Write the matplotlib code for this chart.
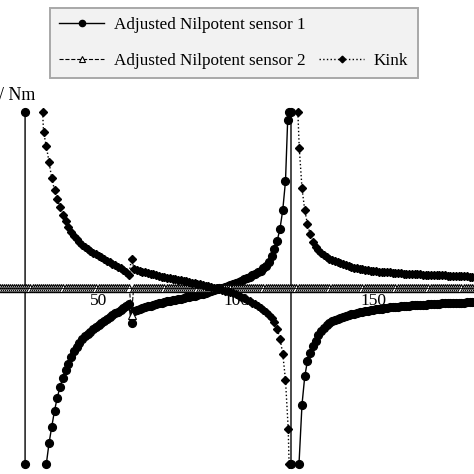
import numpy as np
import matplotlib
matplotlib.use("Agg")
import matplotlib.pyplot as plt
from matplotlib.lines import Line2D

plt.rcParams['font.family'] = ['Liberation Serif', 'DejaVu Serif']

nan = np.nan

# Adjusted Nilpotent sensor 1 (clipped at +-10)
s1_pole_x = [23.3, 23.3]
s1_pole_y = [10, -10]
s1_left_x0 = 31
s1_left_y = [-10, -8.8, -7.85, -6.95, -6.2, -5.6, -5.08, -4.63, -4.28, -3.9,
             -3.55, -3.3, -3.07, -2.87, -2.7, -2.57, -2.45, -2.33, -2.2, -2.08,
             -1.96, -1.85, -1.73, -1.6, -1.5, -1.41, -1.32, -1.22, -1.12, -1.02,
             -0.88, -1.98, -1.3,
             -1.24, -1.18, -1.12, -1.07, -1.02, -0.97, -0.93, -0.89, -0.85, -0.81,
             -0.77, -0.73, -0.70, -0.66, -0.63, -0.60, -0.57, -0.54, -0.51, -0.48,
             -0.45, -0.42, -0.38, -0.34, -0.30, -0.26, -0.21, -0.16, -0.11, -0.05,
             0.0, 0.05, 0.10, 0.15, 0.21, 0.27, 0.33, 0.39, 0.45, 0.52,
             0.59, 0.66, 0.74, 0.83, 0.92, 1.02, 1.15, 1.3, 1.5, 1.82,
             2.25, 2.72, 3.4, 4.45, 6.1]
s1_top_x = [118.8, 119.3, 120.0, 120.0]
s1_top_y = [9.6, 10, 10, -10]
s1_right_x0 = 124
s1_right_y = [-6.6, -5.0, -4.1, -3.68, -3.28, -2.96, -2.66, -2.43, -2.24, -2.08,
              -1.96, -1.87, -1.8, -1.73, -1.66, -1.6, -1.55, -1.51, -1.47, -1.43,
              -1.39, -1.36, -1.33, -1.30, -1.27, -1.24, -1.21, -1.18, -1.16, -1.14,
              -1.12, -1.10, -1.08, -1.06, -1.05, -1.03, -1.02, -1.0, -0.99, -0.98,
              -0.96, -0.95, -0.94, -0.93, -0.92, -0.91, -0.90, -0.89, -0.88, -0.87,
              -0.86, -0.85, -0.85, -0.84, -0.83, -0.82, -0.82, -0.81, -0.80, -0.80,
              -0.79, -0.79, -0.78, -0.78, -0.77]

# Kink
k_left_x0 = 30
k_left_y = [8.9, 8.1, 7.2, 6.25, 5.6, 5.08, 4.62, 4.18, 3.82, 3.5,
            3.22, 2.98, 2.8, 2.66, 2.48, 2.36, 2.25, 2.14, 2.04, 1.95,
            1.86, 1.77, 1.68, 1.58, 1.48, 1.40, 1.32, 1.24, 1.14, 1.05,
            0.95, 0.78, 1.65, 1.12,
            1.06, 1.01, 0.96, 0.92, 0.88, 0.84, 0.80, 0.75, 0.71, 0.68,
            0.65, 0.62, 0.58, 0.55, 0.52, 0.49, 0.46, 0.43, 0.40, 0.37,
            0.33, 0.30, 0.27, 0.24, 0.20, 0.16, 0.12, 0.08, 0.04, 0.0,
            -0.04, -0.08, -0.12, -0.17, -0.22, -0.27, -0.33, -0.40, -0.47, -0.55,
            -0.63, -0.72, -0.81, -0.90, -1.0, -1.11, -1.23, -1.36, -1.5, -1.68,
            -1.88, -2.32, -2.85, -3.7, -5.2, -8.0]
k_right_x0 = 123
k_right_y = [8.0, 5.7, 4.45, 3.65, 3.08, 2.65, 2.38, 2.17, 2.0, 1.88,
             1.78, 1.70, 1.62, 1.55, 1.49, 1.43, 1.37, 1.32, 1.27, 1.23,
             1.19, 1.15, 1.12, 1.09, 1.06, 1.03, 1.01, 0.99, 0.97, 0.96,
             0.95, 0.94, 0.92, 0.91, 0.89, 0.88, 0.87, 0.86, 0.85, 0.84,
             0.83, 0.82, 0.81, 0.80, 0.80, 0.79, 0.78, 0.78, 0.77, 0.77,
             0.76, 0.75, 0.74, 0.74, 0.73, 0.72, 0.72, 0.71, 0.70, 0.70,
             0.69, 0.69, 0.68, 0.68, 0.67, 0.67]

# Adjusted Nilpotent sensor 2: flat at zero, one dip near x = 62
s2_x = 10.25 + 0.75 * np.arange(239)
s2_dip_x = 62.0
s2_dip_y = -1.5

xticks = [50, 100, 150]
labels = ["Adjusted Nilpotent sensor 1", "Adjusted Nilpotent sensor 2", "Kink"]


def grid(x0, ys):
    return list(x0 + np.arange(len(ys)))


s1_x = s1_pole_x + [nan] + grid(s1_left_x0, s1_left_y) + s1_top_x + [nan] + [122.9] + grid(s1_right_x0, s1_right_y)
s1_y = s1_pole_y + [nan] + s1_left_y + s1_top_y + [nan] + [-10] + s1_right_y

k_x = [29.7] + grid(k_left_x0, k_left_y) + [119.3, nan, 122.5] + grid(k_right_x0, k_right_y)
k_y = [10] + k_left_y + [-10, nan, 10] + k_right_y

s2_y = np.zeros(len(s2_x))
s2_y[s2_x == s2_dip_x] = s2_dip_y

fig = plt.figure(figsize=(4.74, 4.74), dpi=100)
ax = fig.add_axes([0, 0, 1, 1])

l1, = ax.plot(s1_x, s1_y, '-', color='black', lw=1.0, marker='o', ms=5.6)
l2, = ax.plot(s2_x, s2_y, '--', color='black', lw=0.8, marker='^', ms=5.4,
              mfc='white', mec='black', mew=0.8)
l3, = ax.plot(k_x, k_y, ':', color='black', lw=1.0, marker='D', ms=4.2)

ax.set_xlim(14.18, 186.55)
ax.set_ylim(-10.54, 16.39)

for s in ['top', 'right', 'left']:
    ax.spines[s].set_visible(False)
ax.spines['bottom'].set_position(('data', 0))
ax.spines['bottom'].set_linewidth(0.6)
ax.set_yticks([])
ax.set_xticks(xticks)
ax.tick_params(axis='x', length=0, pad=3.5, labelsize=12.5)

fig.text(35 / 474, 1 - 100 / 474, "/ Nm", ha='right', va='baseline', fontsize=13)

blank = Line2D([], [], linestyle='none')
leg = fig.legend([l1, l2, blank, l3], [labels[0], labels[1], " ", labels[2]],
                 ncol=2, loc='upper left', bbox_to_anchor=(50 / 474, 1 - 8 / 474),
                 borderaxespad=0, fancybox=False, fontsize=12.3, handlelength=2.6,
                 handletextpad=0.6, columnspacing=0.8, labelspacing=1.15,
                 borderpad=0.55, framealpha=1, markerscale=0.8)
leg.get_frame().set_facecolor('#f2f2f2')
leg.get_frame().set_edgecolor('#a8a8a8')
leg.get_frame().set_linewidth(1.4)

fig.savefig("out.png", dpi=100)
